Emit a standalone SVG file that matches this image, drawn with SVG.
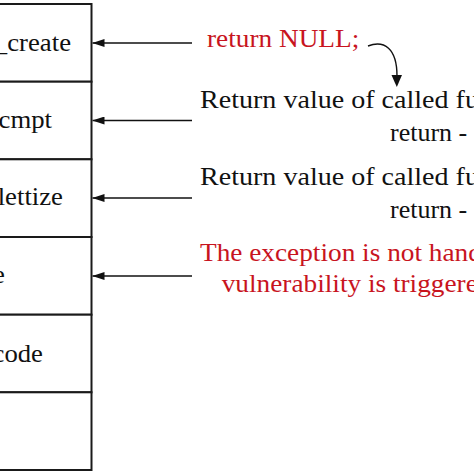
<svg xmlns="http://www.w3.org/2000/svg" width="474" height="474" viewBox="0 0 474 474">
<defs>
<style>
.box{fill:#fff;stroke:#1a1a1a;stroke-width:2}
.lbl{font-family:"Liberation Serif","Times New Roman",serif;font-size:25px;fill:#111;text-anchor:end}
.note{font-family:"Liberation Serif","Times New Roman",serif;font-size:26px;fill:#111}
.red{fill:#c8141e}
.conn{stroke:#111;stroke-width:1.4;fill:none}
</style>
<marker id="ah" viewBox="0 0 12 8" refX="12" refY="4" markerWidth="12" markerHeight="8" markerUnits="userSpaceOnUse" orient="auto">
<path d="M0,0 L12,4 L0,8 Z" fill="#111"/>
</marker>
</defs>
<rect width="474" height="474" fill="#fff"/>
<g id="node-create"><rect class="box" x="-10" y="4" width="101.5" height="77.7"/><text class="lbl" transform="translate(71,51) scale(1.07,1)">_create</text></g>
<g id="node-cmpt"><rect class="box" x="-10" y="81.7" width="101.5" height="77.6"/><text class="lbl" transform="translate(52,128) scale(1.07,1)">cmpt</text></g>
<g id="node-lettize"><rect class="box" x="-10" y="159.3" width="101.5" height="77.7"/><text class="lbl" transform="translate(63,205) scale(1.07,1)">lettize</text></g>
<g id="node-e"><rect class="box" x="-10" y="237" width="101.5" height="77.7"/><text class="lbl" transform="translate(5,283) scale(1.07,1)">e</text></g>
<g id="node-code"><rect class="box" x="-10" y="314.7" width="101.5" height="77.6"/><text class="lbl" transform="translate(43,362) scale(1.07,1)">code</text></g>
<g id="node-empty"><rect class="box" x="-10" y="392.3" width="101.5" height="77.7"/></g>
<g id="connectors">
<line class="conn" x1="192" y1="43" x2="92.5" y2="43" marker-end="url(#ah)"/>
<line class="conn" x1="192" y1="120.5" x2="92.5" y2="120.5" marker-end="url(#ah)"/>
<line class="conn" x1="192" y1="198" x2="92.5" y2="198" marker-end="url(#ah)"/>
<line class="conn" x1="192" y1="276" x2="92.5" y2="276" marker-end="url(#ah)"/>
<path class="conn" d="M368,46 C384,40 397,48 397,76" stroke-width="1.8"/>
<polygon points="391.5,75 402,75 396.8,87" fill="#111"/>
</g>
<g id="note-null"><text class="note red" transform="translate(207,47) scale(1.05,1)">return NULL;</text></g>
<g id="note-ret1"><text class="note" transform="translate(200,108) scale(1.08,1)">Return value of called fun</text><text class="note" x="390" y="141">return -</text></g>
<g id="note-ret2"><text class="note" transform="translate(200,185) scale(1.08,1)">Return value of called fun</text><text class="note" x="390" y="218">return -</text></g>
<g id="note-exc"><text class="note red" transform="translate(200,261) scale(1.05,1)">The exception is not hand</text><text class="note red" transform="translate(221.7,292) scale(1.05,1)">vulnerability is triggere</text></g>
</svg>
